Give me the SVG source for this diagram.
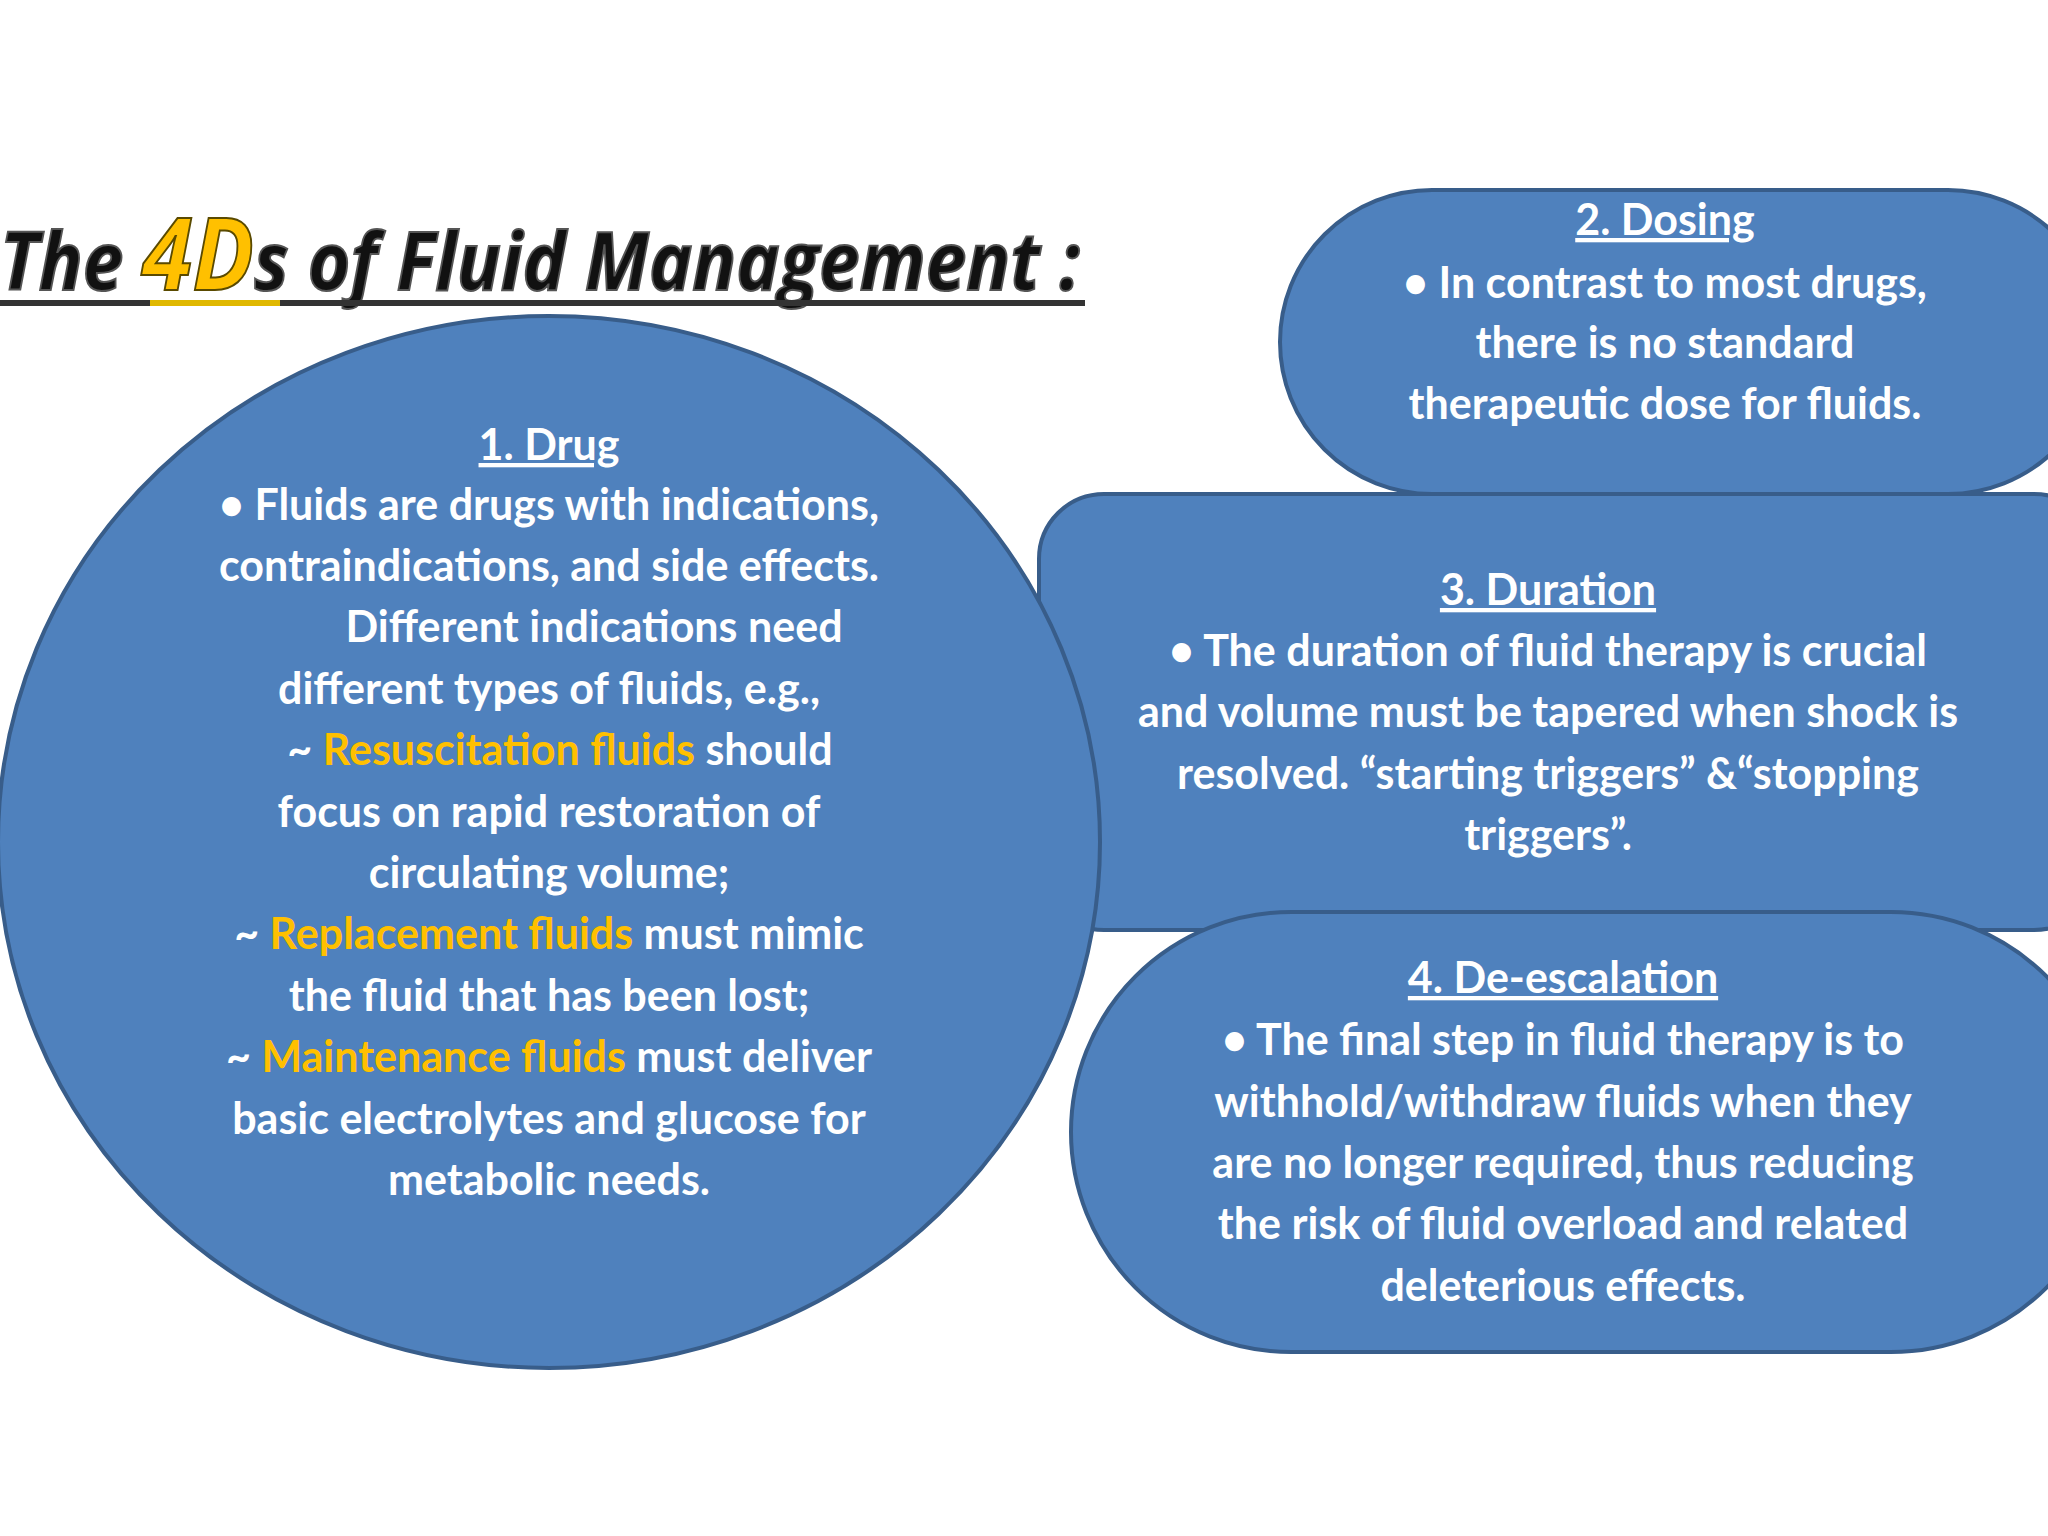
<svg xmlns="http://www.w3.org/2000/svg" width="2048" height="1536" viewBox="0 0 2048 1536">
<style>
.n{fill:#4F81BD;stroke:#385D8A;stroke-width:4}
.t{font-family:Lato,"Open Sans",sans-serif;font-weight:bold;font-size:43px;fill:#fff;text-anchor:middle}
.y{fill:#FFC000}
.h{text-decoration:underline}
.ti{font-family:"Open Sans","Liberation Sans",sans-serif;font-weight:bold;font-style:italic;font-size:80px;fill:#111;stroke:#555;stroke-width:2}
</style>
<rect width="2048" height="1536" fill="#fff"/>
<g id="title">
<text x="0" y="290" class="ti" textLength="1080" lengthAdjust="spacingAndGlyphs">The  <tspan fill="#FFC000" stroke="#5a4a00" font-size="100">4D</tspan>s of Fluid Management :</text>
<rect x="0" y="300" width="1085" height="6" fill="#333"/>
<rect x="150" y="300" width="130" height="6" fill="#E0B800"/>
</g>
<g id="dosing">
<rect class="n" x="1280" y="190" width="820" height="304" rx="152"/>
<text class="t"><tspan x="1665" y="235" class="h">2. Dosing</tspan><tspan x="1665" y="298">• In contrast to most drugs,</tspan><tspan x="1665" y="358">there is no standard</tspan><tspan x="1665" y="419">therapeutic dose for fluids.</tspan></text>
</g>
<g id="duration">
<rect class="n" x="1039" y="494" width="1060" height="436" rx="65"/>
<text class="t"><tspan x="1548" y="605" class="h">3. Duration</tspan><tspan x="1548" y="666">• The duration of fluid therapy is crucial</tspan><tspan x="1548" y="727">and volume must be tapered when shock is</tspan><tspan x="1548" y="789">resolved. “starting triggers” &amp;“stopping</tspan><tspan x="1548" y="850">triggers”.</tspan></text>
</g>
<g id="deescalation">
<rect class="n" x="1071" y="912" width="1040" height="440" rx="220"/>
<text class="t"><tspan x="1563" y="993" class="h">4. De-escalation</tspan><tspan x="1563" y="1055">• The final step in fluid therapy is to</tspan><tspan x="1563" y="1117">withhold/withdraw fluids when they</tspan><tspan x="1563" y="1178">are no longer required, thus reducing</tspan><tspan x="1563" y="1239">the risk of fluid overload and related</tspan><tspan x="1563" y="1301">deleterious effects.</tspan></text>
</g>
<g id="drug">
<ellipse class="n" cx="549" cy="842" rx="551" ry="526"/>
<text class="t"><tspan x="549" y="460" class="h">1. Drug</tspan><tspan x="549" y="520">• Fluids are drugs with indications,</tspan><tspan x="549" y="581">contraindications, and side effects.</tspan><tspan x="594" y="642">Different indications need</tspan><tspan x="549" y="704">different types of fluids, e.g.,</tspan><tspan x="560" y="765">~ <tspan class="y">Resuscitation fluids</tspan> should</tspan><tspan x="549" y="827">focus on rapid restoration of</tspan><tspan x="549" y="888">circulating volume;</tspan><tspan x="549" y="949">~ <tspan class="y">Replacement fluids</tspan> must mimic</tspan><tspan x="549" y="1011">the fluid that has been lost;</tspan><tspan x="549" y="1072">~ <tspan class="y">Maintenance fluids</tspan> must deliver</tspan><tspan x="549" y="1134">basic electrolytes and glucose for</tspan><tspan x="549" y="1195">metabolic needs.</tspan></text>
</g>
<g id="connectors"/>
</svg>
